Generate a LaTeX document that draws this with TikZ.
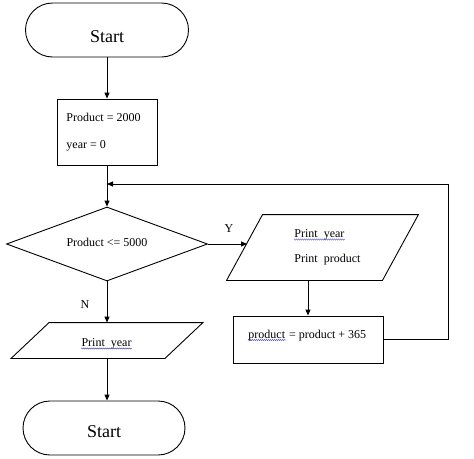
\documentclass[tikz,border=0pt]{standalone}
\usepackage{fontspec}
\setmainfont{Liberation Serif}
\usetikzlibrary{arrows.meta,shapes.geometric,decorations.pathmorphing}
\definecolor{wavyblue}{RGB}{90,90,190}
\begin{document}
\begin{tikzpicture}[x=1pt,y=-1pt, line width=0.9pt,
  term/.style={draw, rectangle, rounded corners=27pt, minimum width=163pt, minimum height=54pt, inner sep=0pt},
  procbox/.style={draw, rectangle, inner sep=0pt},
  decision/.style={draw, diamond, minimum width=201pt, minimum height=74pt, inner sep=0pt},
  iobody/.style={rectangle, inner sep=0pt},
  txt/.style={inner sep=0pt, font=\fontsize{12}{14}\selectfont},
  bigtxt/.style={inner sep=0pt, font=\fontsize{18}{22}\selectfont},
  arr/.style={-{Triangle[length=6pt,width=5pt]}},
  wavy/.style={draw=wavyblue, line width=0.5pt, decorate, decoration={snake, amplitude=0.6pt, segment length=2pt}}
]
\useasboundingbox (0,0) rectangle (474,458);

% Start (top)
\node[term] (start1) at (107,30) {};
\node[bigtxt, anchor=base] (start1t) at (107,42) {Start};

% Initial process box
\node[procbox, minimum width=100pt, minimum height=66pt] (box1) at (107,132) {};
\node[txt, anchor=base west] (b1a) at (66,121) {Product = 2000};
\node[txt, anchor=base west] (b1b) at (66,148) {year = 0};

% Decision
\node[decision] (dec) at (107,244) {};
\node[txt, anchor=base] (dect) at (107,246) {Product <= 5000};

% Output: Print year (N branch)
\node[iobody, minimum width=153pt, minimum height=35pt] (pio1) at (107,340.5) {};
\draw ([xshift=19pt]pio1.north west) -- ([xshift=19pt]pio1.north east)
      -- ([xshift=-19pt]pio1.south east) -- ([xshift=-19pt]pio1.south west) -- cycle;
\node[txt, anchor=base] (pio1t) at (106.5,346.5) {Print\ \ year};
\draw[wavy] ([yshift=-2pt]pio1t.base west) -- ([yshift=-2pt]pio1t.base east);

% Stop (bottom)
\node[term, minimum width=162pt] (start2) at (104,428) {};
\node[bigtxt, anchor=base] (start2t) at (104,437) {Start};

% Output: Print year / Print product (Y branch)
\node[iobody, minimum width=155pt, minimum height=65pt] (pio2) at (322.5,247.5) {};
\draw ([xshift=18pt]pio2.north west) -- ([xshift=18pt]pio2.north east)
      -- ([xshift=-18pt]pio2.south east) -- ([xshift=-18pt]pio2.south west) -- cycle;
\node[txt, anchor=base west] (pio2a) at (294,237.5) {Print\ \ year};
\draw[wavy] ([yshift=-2pt]pio2a.base west) -- ([yshift=-2pt]pio2a.base east);
\node[txt, anchor=base west] (pio2b) at (294,262) {Print\ \ product};

% Update box
\node[procbox, minimum width=150pt, minimum height=47pt] (box2) at (308,339.5) {};
\node[txt, anchor=base west] (b2a) at (248,338) {product};
\draw[wavy] ([yshift=-2pt]b2a.base west) -- ([yshift=-2pt]b2a.base east);
\node[txt, anchor=base west] (b2b) at (b2a.base east) {\ = product + 365};

% Labels
\node[txt, anchor=base] (ylab) at (229,232.5) {Y};
\node[txt, anchor=base] (nlab) at (85,308) {N};

% Coordinates
\coordinate (pin) at (247,244);
\coordinate (j) at (107,184);
\coordinate (lc) at (448,184);

% Connectors
\draw[arr] (start1.south) -- (box1.north);
\draw[arr] (box1.south) -- (dec.north);
\draw[arr] (dec.south) -- (pio1.north);
\draw[arr] (pio1.south) -- (pio1.south |- start2.north);
\draw[arr] (dec.east) -- (pin);
\draw[arr] (box2.north |- pio2.south) -- (box2.north);
\draw (box2.east) -| (lc);
\draw[arr] (lc) -- (j);
\end{tikzpicture}
\end{document}
